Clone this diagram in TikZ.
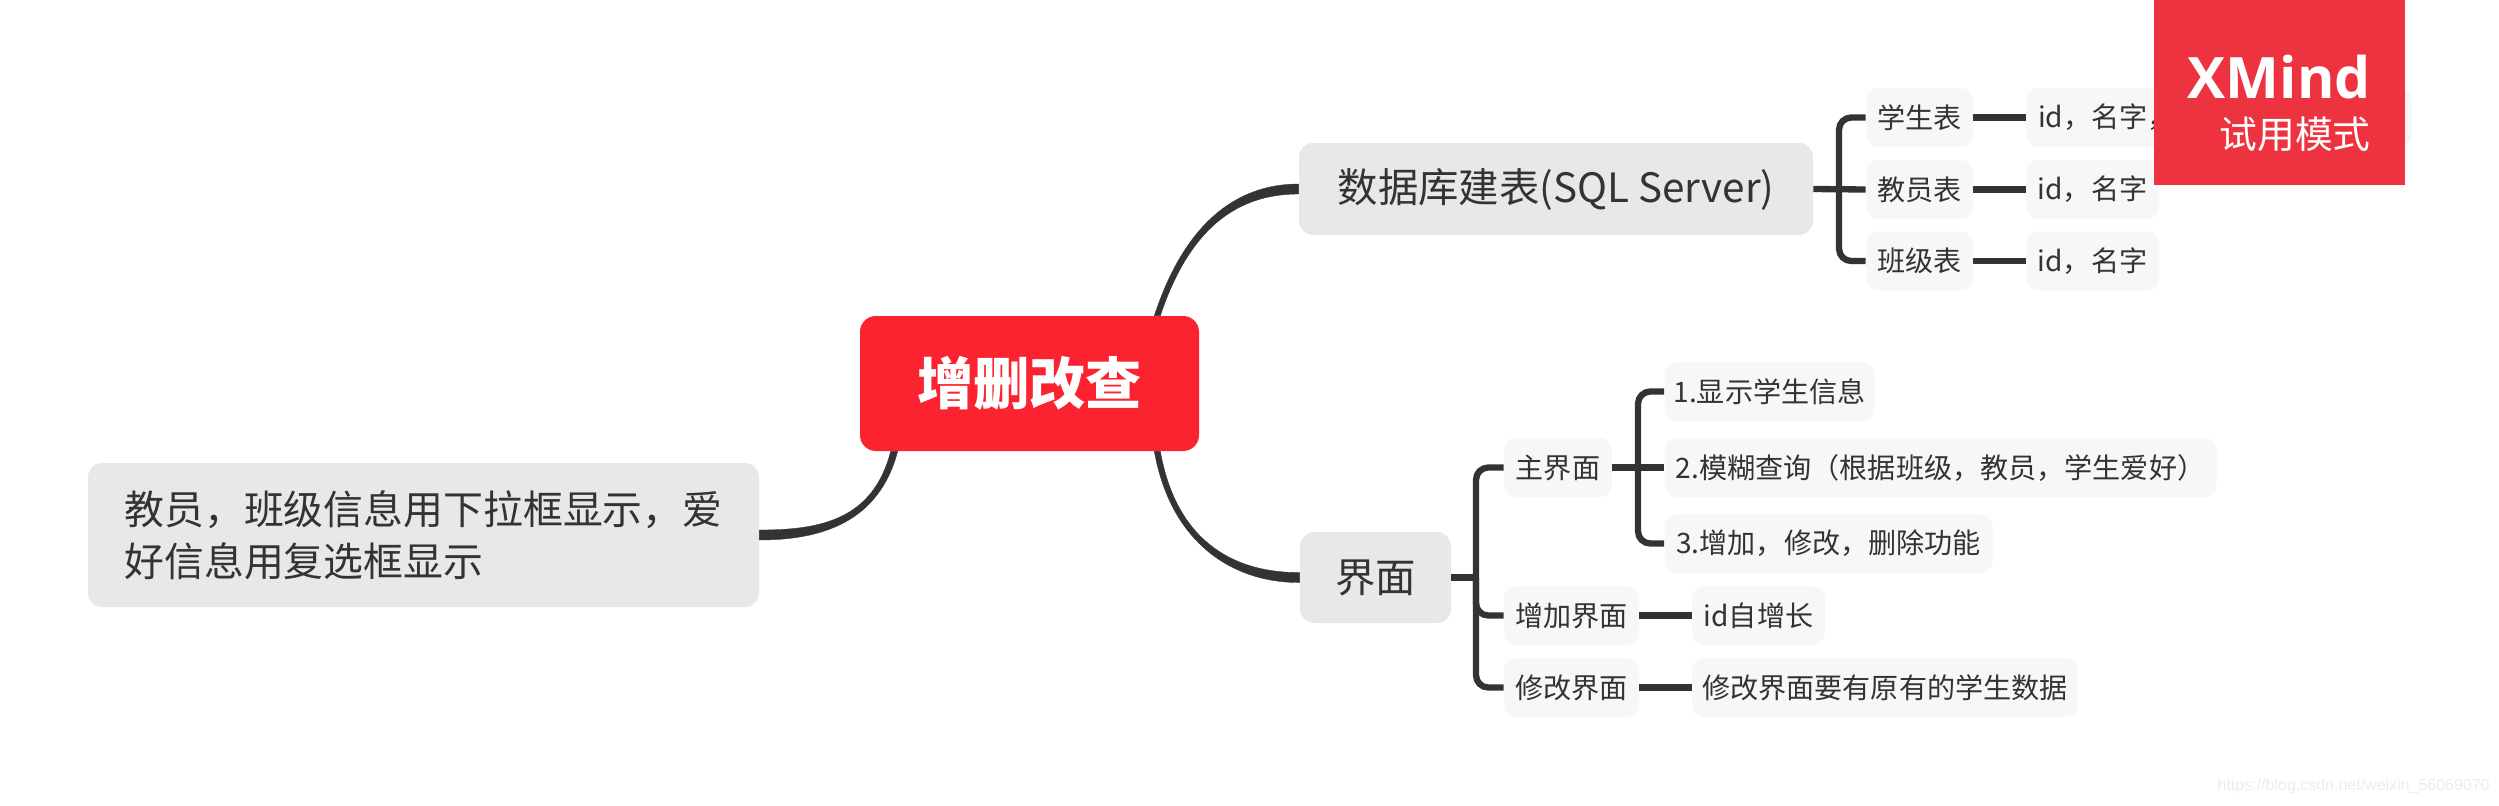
\documentclass[tikz,border=0pt]{standalone}
\usepackage{fontspec}
\usepackage{xcolor}
\usetikzlibrary{calc}
\setmainfont{Noto Sans CJK SC}
\newfontfamily\badgefont{Open Sans}
\newfontfamily\markfont{Liberation Sans}
\definecolor{rootcolor}{RGB}{251,35,48}
\definecolor{badgecolor}{RGB}{238,51,64}
\definecolor{branchcolor}{RGB}{232,232,232}
\definecolor{leafcolor}{RGB}{247,247,247}
\definecolor{linkcolor}{RGB}{51,51,51}
\definecolor{markcolor}{RGB}{236,236,236}
\tikzset{
  boxwh/.style 2 args={minimum width=#1*0.02cm,minimum height=#2*0.02cm,inner sep=0pt},
  rootbox/.style={fill=rootcolor,text=white,rounded corners=9pt,font=\fontsize{32}{36}\selectfont\bfseries},
  branchbox/.style={fill=branchcolor,text=linkcolor,rounded corners=8pt,font=\fontsize{23}{29.6}\selectfont},
  leafbox/.style={fill=leafcolor,text=linkcolor,rounded corners=7pt,font=\fontsize{16}{20}\selectfont},
  trunk/.style={draw=linkcolor,fill=linkcolor,line width=0.2pt},
  link/.style={draw=linkcolor,line width=3.6pt},
  forklink/.style={link,rounded corners=7pt}
}
\begin{document}
\begin{tikzpicture}[x=0.02cm,y=-0.02cm]
  \useasboundingbox (0,0) rectangle (2499,805);
  \node[rootbox,boxwh={339}{135}] (root) at (1029.5,383.5) {增删改查};
  \node[branchbox,boxwh={514}{92}] (dbnode) at (1556,189) {数据库建表(SQL Server)};
  \node[branchbox,boxwh={151}{91}] (uinode) at (1375.5,577.5) {界面};
  \node[branchbox,boxwh={671}{144},align=left,font=\fontsize{22.7}{29.6}\selectfont] (combo) at (423.5,535) {教员，班级信息用下拉框显示，爱\\好信息用复选框显示};

  \node[leafbox,boxwh={107}{59}] (student) at (1919.5,117.5) {学生表};
  \node[leafbox,boxwh={107}{59}] (teacher) at (1919.5,189.5) {教员表};
  \node[leafbox,boxwh={107}{59}] (clazz) at (1919.5,261) {班级表};
  \node[leafbox,minimum height=59*0.02cm,inner ysep=0pt,inner xsep=12*0.02cm,text width=362*0.02cm,align=left] (studentid) at (2219,117.5) {id，名字，};
  \node[leafbox,boxwh={133}{59}] (teacherid) at (2092.5,189.5) {id，名字};
  \node[leafbox,boxwh={133}{59}] (clazzid) at (2092.5,261) {id，名字};

  \node[leafbox,boxwh={108}{59}] (mainui) at (1558,467.5) {主界面};
  \node[leafbox,boxwh={135}{59}] (addui) at (1571.5,615.5) {增加界面};
  \node[leafbox,boxwh={135}{59}] (editui) at (1571.5,687.5) {修改界面};
  \node[leafbox,boxwh={210}{59}] (showinfo) at (1769.5,391.5) {1.显示学生信息};
  \node[leafbox,boxwh={552}{59}] (fuzzy) at (1940.5,467.5) {2.模糊查询（根据班级，教员，学生爱好）};
  \node[leafbox,boxwh={328}{59}] (funcs) at (1828.5,543.5) {3.增加，修改，删除功能};
  \node[leafbox,boxwh={133}{59}] (autoid) at (1758.5,615.5) {id自增长};
  \node[leafbox,boxwh={386}{59}] (editdata) at (1885,687.5) {修改界面要有原有的学生数据};

  \coordinate (dbfork) at (1839,189.5);
  \coordinate (uifork) at (1476,577.5);
  \coordinate (mainfork) at (1638,467.5);

  \draw[trunk] ($(root.north east)+(-45,0)$) .. controls (1184,225) and (1235,184) .. ($(dbnode.west)+(0,-5)$)
    -- ($(dbnode.west)+(0,5)$) .. controls (1238,194) and (1190,227) .. ($(root.north east)+(-39,0)$) -- cycle;
  \draw[trunk] ($(root.south east)+(-45,0)$) .. controls (1171,545) and (1235,583) .. ($(uinode.west)+(0,5)$)
    -- ($(uinode.west)+(0,-5)$) .. controls (1238,573) and (1177,545) .. ($(root.south east)+(-39,0)$) -- cycle;
  \draw[trunk] ($(root.south west)+(31,0)$) .. controls (873,520) and (820,530) .. ($(combo.east)+(0,-5)$)
    -- ($(combo.east)+(0,5)$) .. controls (822,540) and (879,522) .. ($(root.south west)+(38,0)$) -- cycle;

  \draw[link] (dbnode.east) -- (teacher.west);
  \draw[forklink] (student.west) -| (dbfork) |- (clazz.west);
  \draw[link] (student.east) -- (student.east -| studentid.west);
  \draw[link] (teacher.east) -- (teacherid.west);
  \draw[link] (clazz.east) -- (clazzid.west);

  \draw[link] (uinode.east) -- (uifork);
  \draw[forklink] (mainui.west) -| (uifork) |- (editui.west);
  \draw[forklink] (uifork) |- (addui.west);
  \draw[link] (mainui.east) -- (fuzzy.west);
  \draw[forklink] (showinfo.west) -| (mainfork) |- (funcs.west);
  \draw[link] (addui.east) -- (autoid.west);
  \draw[link] (editui.east) -- (editdata.west);

  \node[fill=badgecolor,boxwh={251}{185}] (badge) at (2279.5,92.5) {};
  \node[anchor=east,inner sep=0pt,text=white,font=\badgefont\fontsize{32.5}{36}\selectfont\bfseries] (badgename) at (2371,77) {XMind};
  \node[anchor=east,inner sep=0pt,text=white,font=\fontsize{21.5}{24}\selectfont] (badgemode) at (2371,134) {试用模式};
  \node[anchor=east,inner sep=0pt,text=markcolor,font=\markfont\fontsize{9.1}{10}\selectfont] (urlmark) at (2490,786) {https://blog.csdn.net/weixin\_56069070};
\end{tikzpicture}
\end{document}
